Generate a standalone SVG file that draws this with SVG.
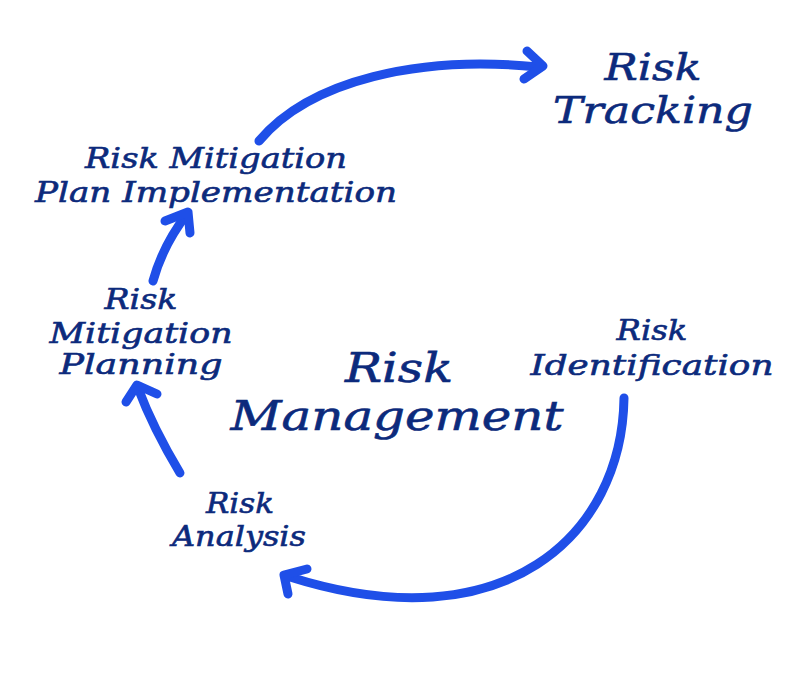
<svg xmlns="http://www.w3.org/2000/svg" width="800" height="674" viewBox="0 0 800 674">
<style>
.bg{fill:#ffffff}
.lbl{font-family:"DejaVu Serif","Liberation Serif",serif;font-style:italic;fill:#0c2a7c;stroke:#0c2a7c;stroke-width:0.6;text-anchor:middle}
.big{font-size:41px}
.trk{font-size:38px}
.mid{font-size:27px}
.conn{fill:none;stroke:#1f4fe8;stroke-width:9;stroke-linecap:round;stroke-linejoin:round}
</style>
<rect class="bg" x="0" y="0" width="800" height="674"/>
<g id="connectors">
  <path class="conn" d="M180,473 Q153,428 138,388"/>
  <path class="conn" d="M126,402 L137,385 L157,394"/>
  <path class="conn" d="M153,281 Q163,245 187,214"/>
  <path class="conn" d="M165,221 L188,212 L190,233"/>
  <path class="conn" d="M259,141 C310,80 420,55 538,67"/>
  <path class="conn" d="M527,51 L543,66 L524,79"/>
  <path class="conn" d="M624,398 C622,535 505,645 290,577"/>
  <path class="conn" d="M307,569 L284,575 L288,594"/>
</g>
<g id="risk-tracking">
  <text class="lbl trk" x="653" y="80" textLength="97" lengthAdjust="spacingAndGlyphs">Risk</text>
  <text class="lbl trk" x="653" y="123" textLength="200" lengthAdjust="spacingAndGlyphs">Tracking</text>
</g>
<g id="risk-mitigation-plan-implementation">
  <text class="lbl mid" x="216" y="168" textLength="262" lengthAdjust="spacingAndGlyphs">Risk Mitigation</text>
  <text class="lbl mid" x="216" y="202" textLength="362" lengthAdjust="spacingAndGlyphs">Plan Implementation</text>
</g>
<g id="risk-mitigation-planning">
  <text class="lbl mid" x="141" y="309" textLength="73" lengthAdjust="spacingAndGlyphs">Risk</text>
  <text class="lbl mid" x="141" y="343" textLength="183" lengthAdjust="spacingAndGlyphs">Mitigation</text>
  <text class="lbl mid" x="141" y="374" textLength="163" lengthAdjust="spacingAndGlyphs">Planning</text>
</g>
<g id="risk-management">
  <text class="lbl big" x="399" y="382" textLength="108" lengthAdjust="spacingAndGlyphs">Risk</text>
  <text class="lbl big" x="397" y="430" textLength="333" lengthAdjust="spacingAndGlyphs">Management</text>
</g>
<g id="risk-identification">
  <text class="lbl mid" x="652" y="340" textLength="71" lengthAdjust="spacingAndGlyphs">Risk</text>
  <text class="lbl mid" x="652" y="375" textLength="243" lengthAdjust="spacingAndGlyphs">Identification</text>
</g>
<g id="risk-analysis">
  <text class="lbl mid" x="240" y="513" textLength="68" lengthAdjust="spacingAndGlyphs">Risk</text>
  <text class="lbl mid" x="239" y="546" textLength="134" lengthAdjust="spacingAndGlyphs">Analysis</text>
</g>
</svg>
